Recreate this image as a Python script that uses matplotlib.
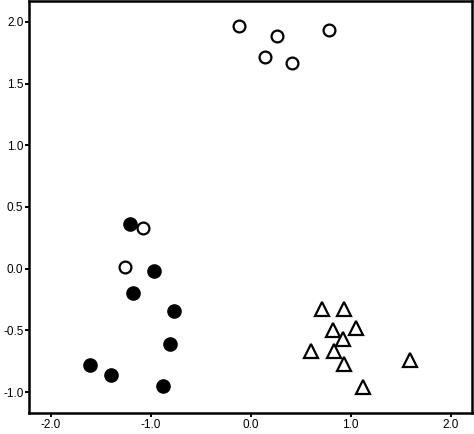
import numpy as np
import matplotlib
matplotlib.use('Agg')
import matplotlib.pyplot as plt

plt.rcParams['font.family'] = ['Liberation Sans', 'DejaVu Sans']

# open circles
open_x = [-0.12, 0.265, 0.785, 0.148, 0.412, -1.075, -1.255]
open_y = [1.97, 1.888, 1.932, 1.713, 1.664, 0.327, 0.016]

# filled circles
filled_x = [-1.205, -0.965, -1.172, -0.762, -0.805, -1.605, -1.398, -0.875]
filled_y = [0.36, -0.019, -0.20, -0.34, -0.608, -0.783, -0.859, -0.948]

# triangles
tri_x = [0.718, 0.935, 0.822, 1.058, 0.928, 0.602, 0.835, 0.935, 1.592, 1.122]
tri_y = [-0.329, -0.329, -0.497, -0.483, -0.57, -0.67, -0.67, -0.77, -0.74, -0.956]

xticks = [-2.0, -1.0, 0.0, 1.0, 2.0]
yticks = [-1.0, -0.5, 0.0, 0.5, 1.0, 1.5, 2.0]

fig = plt.figure(figsize=(4.74, 4.34), dpi=100)
fig.patch.set_facecolor('white')
ax = fig.add_axes([0.0612, 0.0484, 0.9346, 0.9493])

ax.plot(open_x, open_y, 'o', ms=8.5, mfc='white', mec='black', mew=1.6, ls='none')
ax.plot(filled_x, filled_y, 'o', ms=9.5, mfc='black', mec='black', mew=1.0, ls='none')
ax.plot(tri_x, tri_y, '^', ms=9.5, mfc='white', mec='black', mew=1.6, ls='none')

ax.set_xlim(-2.215, 2.215)
ax.set_ylim(-1.17, 2.17)
ax.set_xticks(xticks)
ax.set_yticks(yticks)
ax.set_xticklabels([f'{v:.1f}' for v in xticks])
ax.set_yticklabels([f'{v:.1f}' for v in yticks])
ax.tick_params(direction='out', length=3, width=1.4, labelsize=8.5, pad=1)
for s in ax.spines.values():
    s.set_linewidth(1.8)

plt.savefig('out.png', dpi=100, facecolor='white')
plt.close()
